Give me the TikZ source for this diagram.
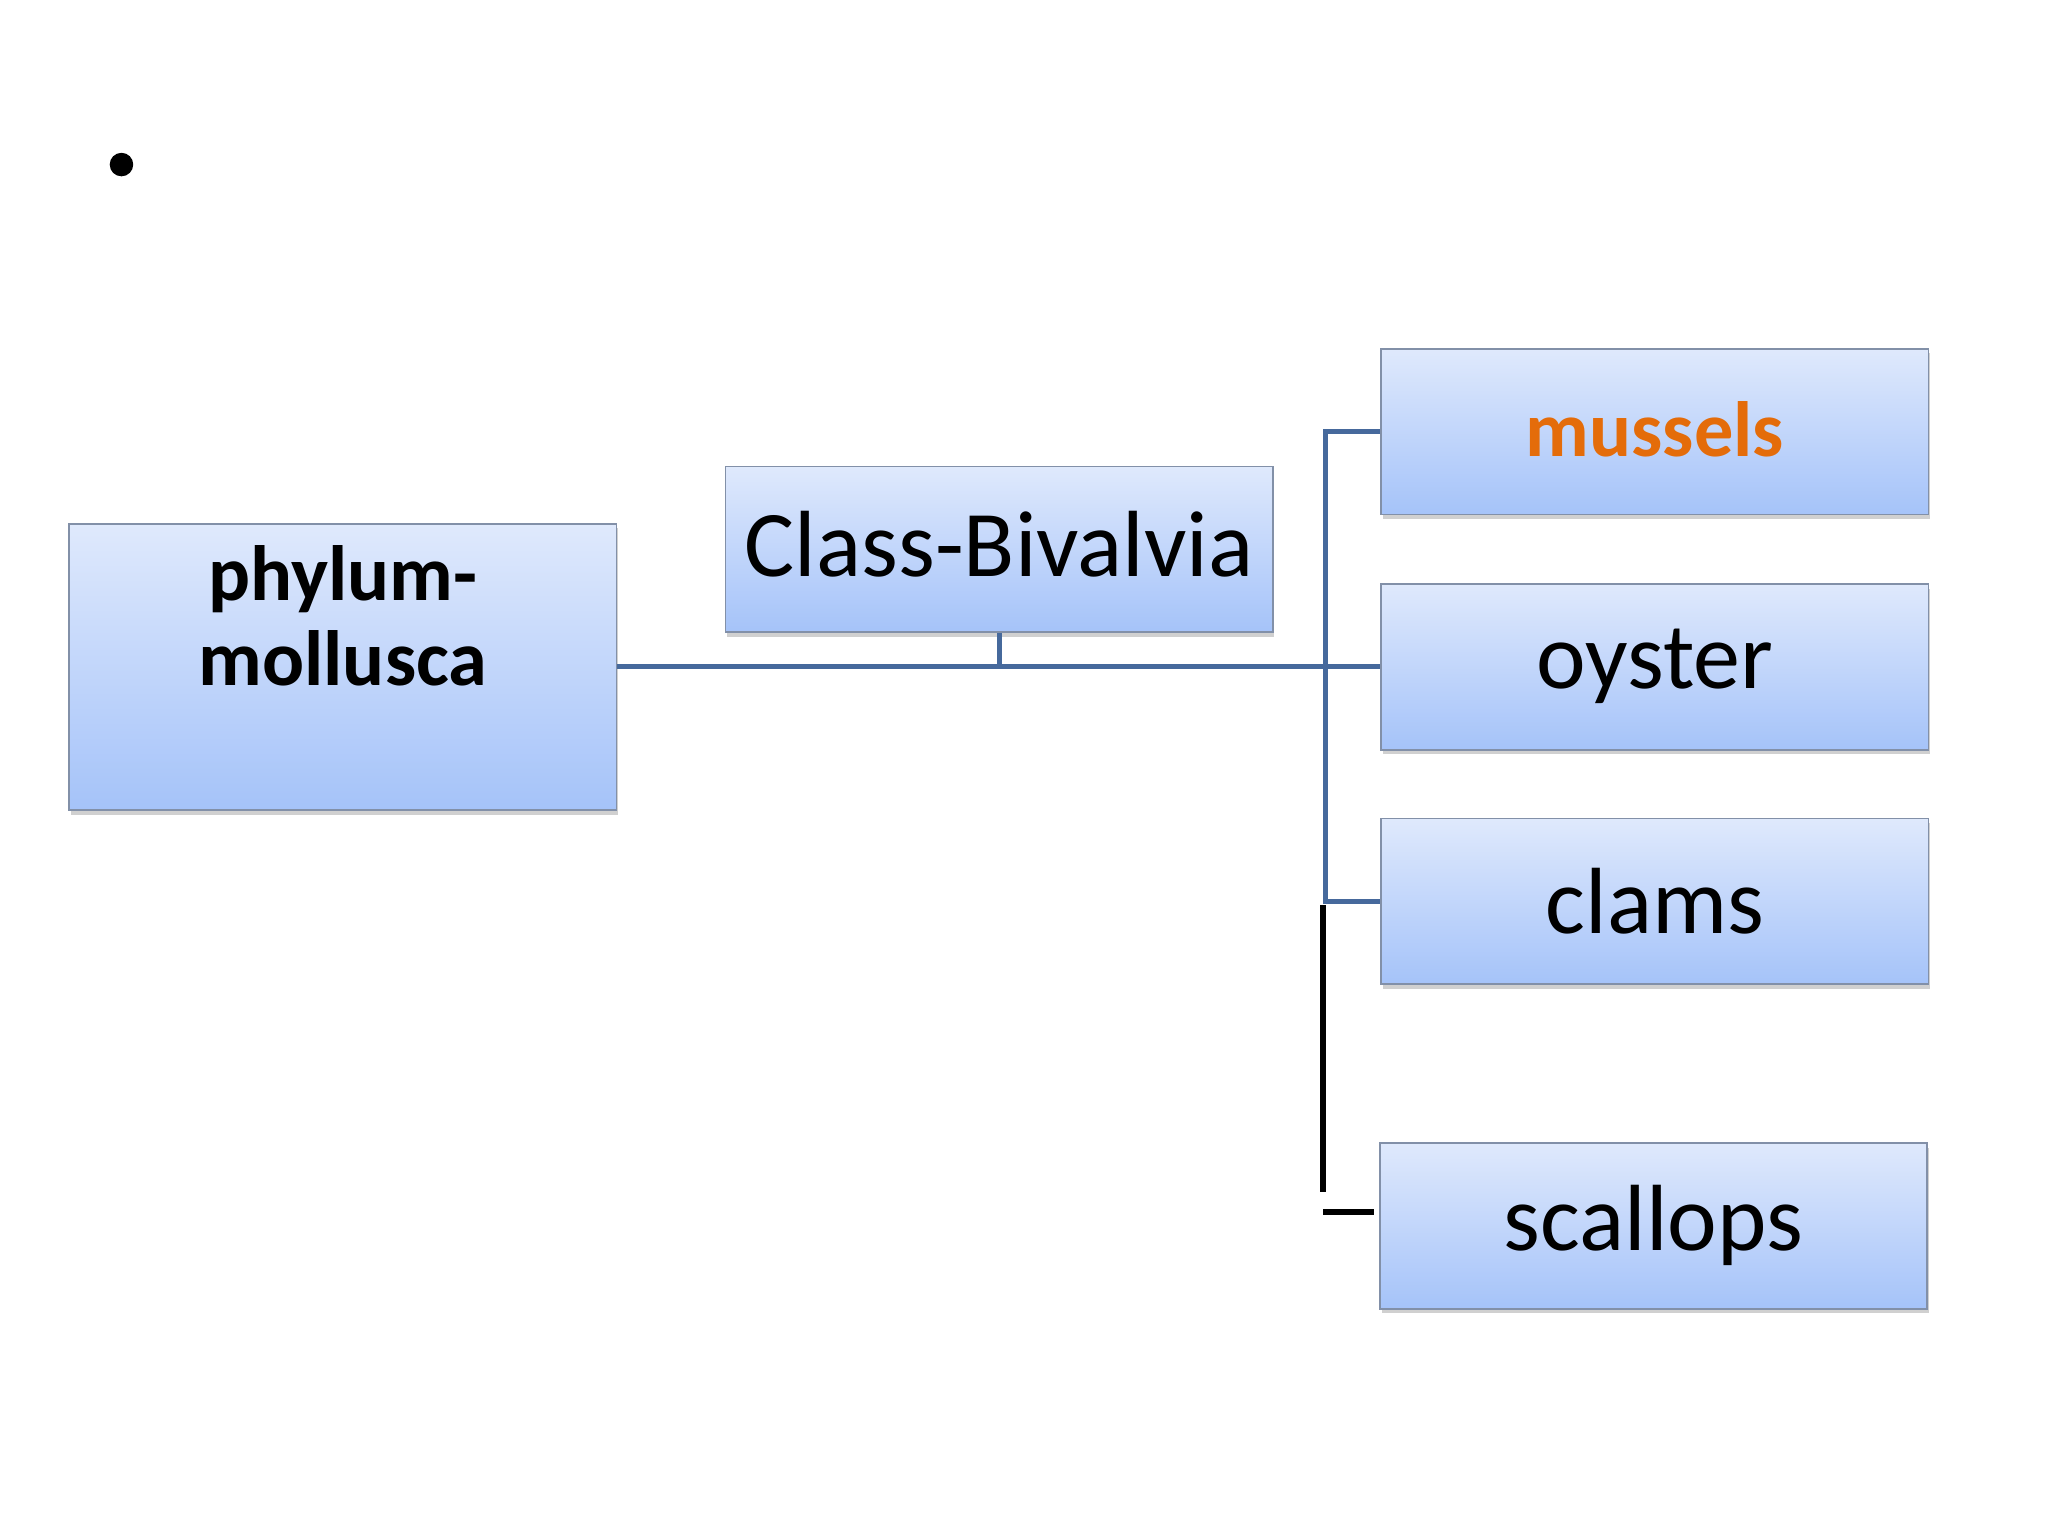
\documentclass[tikz,border=0pt]{standalone}
\usepackage{fontspec}
\setmainfont{Carlito}
\usetikzlibrary{shadows}
\definecolor{boxTop}{HTML}{DFE9FC}
\definecolor{boxBot}{HTML}{A5C3F9}
\definecolor{boxLine}{HTML}{8290A8}
\definecolor{linkBlue}{HTML}{46699C}
\definecolor{musselOrange}{HTML}{E46C0A}
\tikzset{
  card/.style={rectangle, draw=boxLine, line width=0.6pt,
    top color=boxTop, bottom color=boxBot,
    minimum width=209.5pt, minimum height=63.5pt, inner sep=0pt,
    drop shadow={shadow xshift=0.6pt, shadow yshift=-1.8pt, opacity=0.3, fill=black!60}},
  regtext/.style={font=\fontsize{36}{40}\selectfont, text=black},
  boldtext/.style={font=\fontsize{30}{32.5}\selectfont\bfseries, text=black},
  link/.style={draw=linkBlue, line width=1.9pt},
  blacklink/.style={draw=black, line width=2.1pt}
}
\begin{document}
\begin{tikzpicture}[x=0.5pt, y=-0.5pt]
\useasboundingbox[fill=white] (0,0) rectangle (1568,1176);
% bullet
\node[circle, fill=black, minimum size=9pt, inner sep=0pt] (bullet) at (93,126) {};
% boxes
\node[card, minimum height=109.5pt] (phylum) at (262.5,510.5) {};
\node[boldtext, align=center, anchor=north, inner sep=0pt] (phylumtext) at (262.5,417) {phylum-\\mollusca};
\node[card] (class) at (765,420.5) {};
\node[regtext, inner sep=0pt] (classtext) at (765,417) {Class-Bivalvia};
\node[card, boldtext, text=musselOrange] (mussels) at (1267,330.5) {};
\node[boldtext, text=musselOrange, inner sep=0pt] (musseltext) at (1267,328.5) {mussels};
\node[card, regtext] (oyster) at (1267,510.5) {oyster};
\node[card, regtext] (clams) at (1267,690) {clams};
\node[card, regtext] (scallops) at (1266,938.5) {scallops};
% connectors
\coordinate (vtop) at (1015,330.5);
\draw[link] (phylum.east) -- (oyster.west);
\draw[link] (class.south) -- (class.south |- phylum.east);
\draw[link, line join=miter] (mussels.west) -- (vtop) -- (vtop |- clams.west) -- (clams.west);
\coordinate (bka) at (1013,693);
\coordinate (bkb) at (1013,913);
\coordinate (bkc) at (1013,928);
\coordinate (bkd) at (1052,928);
\draw[blacklink] (bka) -- (bkb);
\draw[blacklink] (bkc) -- (bkd);
\end{tikzpicture}
\end{document}
